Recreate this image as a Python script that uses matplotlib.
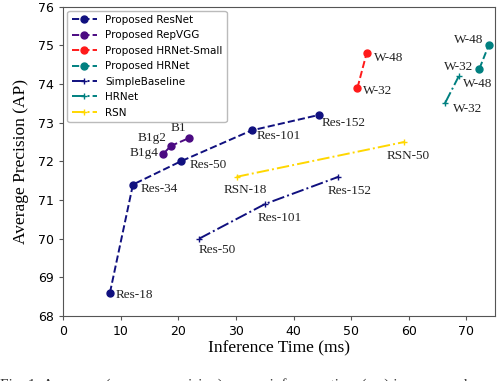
import matplotlib
matplotlib.use("Agg")
from matplotlib import pyplot as plt

# data
res_time = [8.1, 12.1, 20.4, 32.7, 44.4]
res_ap = [68.6, 71.4, 72.0, 72.8, 73.2]
res_names = ['Res-18', 'Res-34', 'Res-50', 'Res-101', 'Res-152']

vgg_time = [17.4, 18.7, 21.8]
vgg_ap = [72.2, 72.4, 72.6]
vgg_names = ['B1g4', 'B1g2', 'B1']

hrs_time = [51.1, 52.7]
hrs_ap = [73.9, 74.8]
hrs_names = ['W-32', 'W-48']

hrp_time = [72.3, 73.9]
hrp_ap = [74.4, 75.0]
hrp_names = ['W-32', 'W-48']

sb_time = [23.6, 35.1, 47.8]
sb_ap = [70.0, 70.9, 71.6]
sb_names = ['Res-50', 'Res-101', 'Res-152']

hr_time = [66.3, 68.7]
hr_ap = [73.5, 74.2]
hr_names = ['W-32', 'W-48']

rsn_time = [30.1, 59.2]
rsn_ap = [71.6, 72.5]
rsn_names = ['RSN-18', 'RSN-50']

NAVY = '#10107f'
PURPLE = '#4b0a82'
RED = '#ff1a1a'
TEAL = '#008080'
GOLD = '#ffd700'

# label offsets in pixels (dx, dy, ha)
OFF_RES = [(6, -2, 'left'), (8, -4, 'left'), (9, -4, 'left'), (5, -6, 'left'), (3, -8, 'left')]
OFF_VGG = [(-5, 1, 'right'), (-4, 8, 'right'), (-10, 10, 'center')]
OFF_HRS = [(6, -3, 'left'), (7, -5, 'left')]
OFF_HRP = [(-6, 2, 'right'), (-5, 5, 'right')]
OFF_SB = [(-1, -11, 'left'), (-8, -14, 'left'), (-11, -14, 'left')]
OFF_HR = [(8, -6, 'left'), (4, -8, 'left')]
OFF_RSN = [(9, -13, 'center'), (4, -14, 'center')]

plt.rcParams['font.family'] = 'DejaVu Sans'
fig = plt.figure(figsize=(5.0, 3.81), dpi=100)
ax = fig.add_axes([0.1266, 0.1706, 0.8634, 0.8118])

ax.plot(res_time, res_ap, '--o', color=NAVY, ms=5, lw=1.4, label='Proposed ResNet')
ax.plot(vgg_time, vgg_ap, '--o', color=PURPLE, ms=5, lw=1.4, label='Proposed RepVGG')
ax.plot(hrs_time, hrs_ap, '--o', color=RED, ms=5, lw=1.4, label='Proposed HRNet-Small')
ax.plot(hrp_time, hrp_ap, '--o', color=TEAL, ms=5, lw=1.4, label='Proposed HRNet')
ax.plot(sb_time, sb_ap, '-.+', color=NAVY, ms=5, lw=1.4, label='SimpleBaseline')
ax.plot(hr_time, hr_ap, '-.+', color=TEAL, ms=5, lw=1.4, label='HRNet')
ax.plot(rsn_time, rsn_ap, '-.+', color=GOLD, ms=5, lw=1.4, label='RSN')

groups = [
    (res_time, res_ap, res_names, OFF_RES),
    (vgg_time, vgg_ap, vgg_names, OFF_VGG),
    (hrs_time, hrs_ap, hrs_names, OFF_HRS),
    (hrp_time, hrp_ap, hrp_names, OFF_HRP),
    (sb_time, sb_ap, sb_names, OFF_SB),
    (hr_time, hr_ap, hr_names, OFF_HR),
    (rsn_time, rsn_ap, rsn_names, OFF_RSN),
]
for xs, ys, names, offs in groups:
    for x, y, name, (dx, dy, ha) in zip(xs, ys, names, offs):
        ax.annotate(name, (x, y), xytext=(dx, dy), textcoords='offset pixels',
                    ha=ha, va='center', fontsize=9.5, family='Liberation Serif',
                    color='#222222')

ax.set_xlim(0, 75)
ax.set_ylim(68, 76)
ax.set_xticks(range(0, 71, 10))
ax.set_yticks(range(68, 77))
ax.tick_params(labelsize=9, length=3, color='#555555')
for s in ax.spines.values():
    s.set_color('#555555')

ax.set_xlabel('Inference Time (ms)', family='Liberation Serif', fontsize=12.5, labelpad=2)
ax.set_ylabel('Average Precision (AP)', family='Liberation Serif', fontsize=12.5, labelpad=7)

ax.legend(loc='upper left', fontsize=7.5, labelspacing=0.52, handlelength=2.4,
          borderaxespad=0.4, framealpha=1, edgecolor='#bbbbbb', fancybox=True)

# caption of the source figure, mostly cut off at the bottom edge
fig.text(0.0, 0.007, 'Fig. 1: Accuracy (average precision) versus inference time (ms) is compared',
         family='Liberation Serif', fontsize=11, va='top', ha='left', color='#333333')

fig.savefig('out.png', dpi=100)
